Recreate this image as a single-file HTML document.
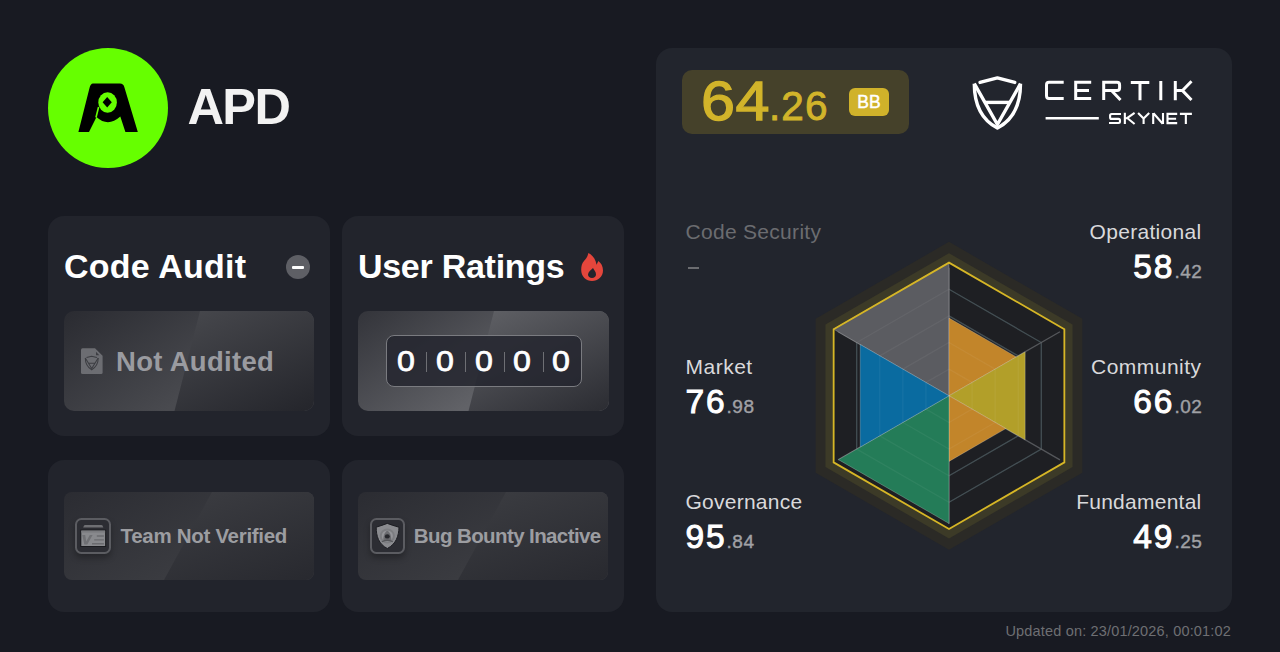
<!DOCTYPE html>
<html><head><meta charset="utf-8">
<style>
*{margin:0;padding:0;box-sizing:border-box}
html,body{width:1280px;height:652px;overflow:hidden;background:#181a22;font-family:"Liberation Sans",sans-serif;color:#fff}
.abs{position:absolute}
.t{position:absolute;white-space:nowrap}
.card{background:#22242c;border-radius:16px}
.glass{border-radius:10px;overflow:hidden}
.dv{top:352px;width:1px;height:20px;background:#6e6f74}
.sh{position:absolute;left:0;top:0;width:100%;height:100%}
.g2{border-radius:8px;background:linear-gradient(150deg,#2b2c32 0%,#3b3c41 65%)}
.sh2{clip-path:polygon(148px 0,100% 0,100% 100%,100px 100%);background:linear-gradient(160deg,#3a3b40 30%,#28292f 100%)}
</style></head><body>

<div class="abs" style="left:48px;top:48px;width:120px;height:120px;border-radius:50%;background:#66ff00"></div>
<div class="abs card" style="left:48px;top:216px;width:282px;height:220px"></div>
<div class="abs" style="left:286px;top:255px;width:24px;height:24px;border-radius:50%;background:#5e5f65"></div>
<div class="abs" style="left:292px;top:265.5px;width:12px;height:3px;background:#fff;border-radius:1px"></div>
<div class="abs glass" style="left:64px;top:311px;width:250px;height:100px;background:linear-gradient(145deg,#2a2b31 0%,#494a4f 62%)"><div class="sh" style="clip-path:polygon(136px 0,100% 0,100% 100%,110.5px 100%);background:linear-gradient(155deg,#45464b 30%,#24252b 100%)"></div></div>
<div class="abs card" style="left:342px;top:216px;width:282px;height:220px"></div>
<div class="abs glass" style="left:358px;top:311px;width:251px;height:100px;background:linear-gradient(145deg,#33343a 0%,#616267 62%)"><div class="sh" style="clip-path:polygon(136px 0,100% 0,100% 100%,110.5px 100%);background:linear-gradient(155deg,#5d5e63 30%,#2b2c32 100%)"></div></div>
<div class="abs" style="left:386px;top:335px;width:196px;height:52px;border:1px solid #7a7b80;border-radius:8px;background:rgba(36,38,47,0.85)"></div>
<div class="abs dv" style="left:426px"></div><div class="abs dv" style="left:465px"></div><div class="abs dv" style="left:504px"></div><div class="abs dv" style="left:543px"></div>
<div class="abs card" style="left:48px;top:460px;width:282px;height:152px"></div>
<div class="abs glass g2" style="left:64px;top:492px;width:250px;height:88px"><div class="sh sh2"></div></div>
<div class="abs card" style="left:342px;top:460px;width:282px;height:152px"></div>
<div class="abs glass g2" style="left:358px;top:492px;width:250px;height:88px"><div class="sh sh2"></div></div>
<div class="abs" style="left:75px;top:518px;width:36px;height:36px;border-radius:6px;box-shadow:0 4px 6px rgba(0,0,0,0.28)"></div>
<div class="abs" style="left:370px;top:518px;width:35px;height:36px;border-radius:6px;box-shadow:0 4px 6px rgba(0,0,0,0.28)"></div>
<div class="abs" style="left:656px;top:48px;width:576px;height:564px;background:#22252d;border-radius:16px"></div>
<div class="abs" style="left:682px;top:70px;width:227px;height:64px;border-radius:10px;background:#45412a"></div>
<div class="abs" style="left:849px;top:88px;width:40px;height:28px;border-radius:6px;background:#d0b22a;color:#fff;font-size:17.5px;line-height:29.5px;text-align:center;-webkit-text-stroke:0.45px #fff">BB</div>
<div class="abs" style="left:688px;top:266.5px;width:10.5px;height:2.5px;background:#6b6c70"></div>
<svg class="abs" style="left:0;top:0" width="1280" height="652" viewBox="0 0 1280 652">
<!-- APD logo -->
<path d="M93,83.5 H120 Q123.5,83.5 124.3,87 L137.8,131.9 H125.4 L120.3,116.5 Q108,127.6 96.5,117 L89,131.9 H78.4 L89.5,88 Q90.5,83.5 93,83.5 Z" fill="#000"/>
<ellipse cx="107.6" cy="102.5" rx="9.3" ry="10.2" fill="#66ff00"/>
<path d="M107.2,97 L111.8,102.3 L107.2,107.6 L102.6,102.3 Z" fill="#000"/>
<path d="M98.6,107 L96,117.5" stroke="#66ff00" stroke-width="1.6"/>
<!-- flame -->
<path d="M588.4,253 C587.5,257 586,259 584,261 C582,263 581.2,266 581.2,270 C581.2,276.5 586,281 592,281 C598,281 603,276.5 603,270.5 C603,266 601,263 598.3,261 L596.6,264.8 C595.5,259 592.5,255 588.4,253 Z" fill="#e4463c"/>
<path d="M593,268 C591,270 588,272 588,274.5 C588,276.5 589.8,278 592,278 C594.2,278 596,276.5 596,274.5 C596,271.5 594,270 593,268 Z" fill="#22242c"/>
<!-- radar -->
<polygon points="949.00,241.80 1082.37,318.80 1082.37,472.80 949.00,549.80 815.63,472.80 815.63,318.80" fill="#2b2a26"/>
<polygon points="949.00,253.20 1072.50,324.50 1072.50,467.10 949.00,538.40 825.50,467.10 825.50,324.50" fill="#3c3a27"/>
<polygon points="949.00,262.60 1064.35,329.20 1064.35,462.40 949.00,529.00 833.65,462.40 833.65,329.20" fill="#1e1f23"/>
<polygon points="949.00,369.16 972.07,382.48 972.07,409.12 949.00,422.44 925.93,409.12 925.93,382.48" fill="none" stroke="#3a464b" stroke-width="1.3"/>
<polygon points="949.00,342.52 995.14,369.16 995.14,422.44 949.00,449.08 902.86,422.44 902.86,369.16" fill="none" stroke="#3a464b" stroke-width="1.3"/>
<polygon points="949.00,315.88 1018.21,355.84 1018.21,435.76 949.00,475.72 879.79,435.76 879.79,355.84" fill="none" stroke="#3a464b" stroke-width="1.3"/>
<polygon points="949.00,289.24 1041.28,342.52 1041.28,449.08 949.00,502.36 856.72,449.08 856.72,342.52" fill="none" stroke="#3a464b" stroke-width="1.3"/>
<line x1="949.00" y1="395.80" x2="949.00" y2="267.66" stroke="#55575b" stroke-width="1.3"/>
<line x1="949.00" y1="395.80" x2="1059.97" y2="331.73" stroke="#55575b" stroke-width="1.3"/>
<line x1="949.00" y1="395.80" x2="1059.97" y2="459.87" stroke="#55575b" stroke-width="1.3"/>
<line x1="949.00" y1="395.80" x2="949.00" y2="523.94" stroke="#55575b" stroke-width="1.3"/>
<line x1="949.00" y1="395.80" x2="838.03" y2="459.87" stroke="#55575b" stroke-width="1.3"/>
<line x1="949.00" y1="395.80" x2="838.03" y2="331.73" stroke="#55575b" stroke-width="1.3"/>
<polygon points="949.00,395.80 833.65,329.20 949.00,262.60" fill="#5b5c61" stroke="rgba(255,255,255,0.28)" stroke-width="0.8"/>
<polygon points="949.00,395.80 949.00,317.98 1016.39,356.89" fill="#c2852a" stroke="rgba(255,255,255,0.28)" stroke-width="0.8"/>
<polygon points="949.00,395.80 1025.16,351.83 1025.16,439.77" fill="#b29f29" stroke="rgba(255,255,255,0.28)" stroke-width="0.8"/>
<polygon points="949.00,395.80 1005.81,428.60 949.00,461.40" fill="#c2852a" stroke="rgba(255,255,255,0.28)" stroke-width="0.8"/>
<polygon points="949.00,395.80 949.00,523.46 838.44,459.63" fill="#247c58" stroke="rgba(255,255,255,0.28)" stroke-width="0.8"/>
<polygon points="949.00,395.80 860.20,447.07 860.20,344.53" fill="#0a6ba0" stroke="rgba(255,255,255,0.28)" stroke-width="0.8"/>
<polygon points="949.00,369.16 972.07,382.48 972.07,409.12 949.00,422.44 925.93,409.12 925.93,382.48" fill="none" stroke="rgba(255,255,255,0.05)" stroke-width="1.3"/>
<polygon points="949.00,342.52 995.14,369.16 995.14,422.44 949.00,449.08 902.86,422.44 902.86,369.16" fill="none" stroke="rgba(255,255,255,0.05)" stroke-width="1.3"/>
<polygon points="949.00,315.88 1018.21,355.84 1018.21,435.76 949.00,475.72 879.79,435.76 879.79,355.84" fill="none" stroke="rgba(255,255,255,0.05)" stroke-width="1.3"/>
<polygon points="949.00,289.24 1041.28,342.52 1041.28,449.08 949.00,502.36 856.72,449.08 856.72,342.52" fill="none" stroke="rgba(255,255,255,0.05)" stroke-width="1.3"/>
<polygon points="949.00,262.60 1064.35,329.20 1064.35,462.40 949.00,529.00 833.65,462.40 833.65,329.20" fill="none" stroke="#d6b626" stroke-width="1.8"/>
<!-- certik logo -->
<g fill="none" stroke="#fff" stroke-width="3.4" stroke-linejoin="round">
<path d="M980,82.4 L997.4,77.9 L1014.8,82.4" stroke-linecap="round"/>
<path d="M974.3,83.7 C974.3,105 982,120 997.4,128 C1012.8,120 1020.5,105 1020.5,83.7"/>
<path d="M974.3,83.7 L997.4,124.5 L1020.5,83.7"/>
<path d="M985.2,102.4 H1009.6"/>
</g>
<g fill="none" stroke="#fff" stroke-width="3">
<path d="M1063.7,82.3 H1049 Q1046.5,82.3 1046.5,85 V95.8 Q1046.5,98.5 1049,98.5 H1063.7"/>
<path d="M1091.2,82.3 H1075.7 V98.5 H1091.2 M1075.7,90.5 H1089"/>
<path d="M1103.7,100 V82.3 H1117 Q1119.6,82.3 1119.6,85 V88 Q1119.6,90.5 1117,90.5 H1103.7 M1111.5,90.5 L1120.5,100"/>
<path d="M1130.8,82.4 H1149.3 M1140,82.4 V100.2"/>
<path d="M1160.8,81 V100.2"/>
<path d="M1175.3,81 V100.2 M1175.3,90.6 H1182.5 L1191.5,81.3 M1182.5,90.6 L1191.5,100"/>
</g>
<path d="M1045.6,118.3 H1098.8" stroke="#fff" stroke-width="2.4"/>
<g fill="none" stroke="#fff" stroke-width="2.1">
<path d="M1121,114 H1111.6 Q1110.1,114 1110.1,115.5 V117.4 Q1110.1,118.9 1111.6,118.9 H1118.5 Q1120,118.9 1120,120.4 V121.6 Q1120,123.05 1118.5,123.05 H1109"/>
<path d="M1124.85,112.7 V124.1 M1124.85,118.2 H1127 L1134.6,112.9 M1127.5,118.2 L1134.6,124"/>
<path d="M1138.1,112.9 L1143.6,118.5 L1149.2,112.9 M1143.6,118.3 V124.1"/>
<path d="M1153.2,124.1 V112.9 M1153.5,113.3 L1162.7,123.7 M1163,124.1 V112.9"/>
<path d="M1177.2,113.9 H1167.5 V123.1 H1177.2 M1167.5,118.8 H1176.1"/>
<path d="M1179.9,113.9 H1191.9 M1185.85,113.9 V124.1"/>
</g>
<!-- team icon -->
<rect x="76" y="519" width="34" height="34" rx="5.5" fill="#2c2d33" stroke="#5b5c61" stroke-width="2"/>
<path d="M83.2,527.6 L84,525.6 Q84.3,525 85.1,525 H101.4 Q102.2,525 102.5,525.6 L103.3,527.6 Z" fill="#6e6f73"/>
<rect x="80.3" y="529.6" width="25.8" height="17.4" fill="#1a1b1f"/>
<rect x="81.3" y="530.6" width="23.8" height="15.4" fill="#88898d"/>
<rect x="81.3" y="530.6" width="23.8" height="2" fill="#7b7c80"/>
<path d="M82.3,535 H85.2 L86.2,541.5 L89.8,535 H92.6 L87.3,544.6 H84.3 Z" fill="#6f7074"/>
<g stroke="#6a6b6f" stroke-width="1.4"><path d="M96.8,536 H103.9 M94.2,539.9 H103.9 M92,543.8 H103.9"/></g>
<!-- shield icon -->
<rect x="371" y="519" width="33" height="34" rx="5.5" fill="#2c2d33" stroke="#5b5c61" stroke-width="2"/>
<path d="M387.3,523.4 C384,524.6 380,526 376.2,527.2 C376.2,536 378.5,544 387.3,548.5 C396.1,544 398.8,536 399,527.2 C394.6,526 390.6,524.6 387.3,523.4 Z" fill="#8a8b8f" stroke="#1c1d22" stroke-width="1"/>
<circle cx="387.3" cy="536" r="7.6" fill="#7c7d81"/>
<circle cx="387.3" cy="536" r="5.6" fill="#949599"/>
<path d="M383.3,540.5 C383.3,536 384.5,532 387.3,530.8 C390.1,532 391.3,536 391.3,540.5 Z" fill="#6b6c70"/>
<ellipse cx="387.3" cy="536.4" rx="2.5" ry="2.2" fill="#26272c"/>
<path d="M381.5,541.2 Q387.3,537.6 393.1,541.2 L392.5,542.2 Q387.3,539.8 382.1,542.2 Z" fill="#55565a"/>
<!-- doc icon -->
<path d="M82.5,348.2 H95 L102.6,355.7 V372.5 Q102.6,374 101.1,374 H82.5 Q81,374 81,372.5 V349.7 Q81,348.2 82.5,348.2 Z" fill="#6c6d72"/>
<path d="M96,351.8 L99.3,355.2 H96 Z" fill="#3d3e43"/>
<g fill="none" stroke="#3c3d42" stroke-width="1.05">
<path d="M86.5,357.6 L91.7,356.2 L96.9,357.6"/>
<path d="M85.3,358 C85.3,364 88,367.5 91.7,369.8 C95.4,367.5 98.2,364 98.2,358"/>
<path d="M85.3,358 L91.7,368.5 L98.2,358 M88.5,363.2 H94.9"/>
</g>
</svg>
<div id="apd" class="t" style="left:187.50px;top:82.25px;font-size:50.50px;line-height:50.50px;color:#f2f2f2;font-weight:700;letter-spacing:-1.60px;">APD</div>
<div id="ca" class="t" style="left:63.90px;top:249.22px;font-size:34.00px;line-height:34.00px;color:#ffffff;font-weight:700;letter-spacing:0.23px;">Code Audit</div>
<div id="ur" class="t" style="left:357.90px;top:249.22px;font-size:34.00px;line-height:34.00px;color:#ffffff;font-weight:700;letter-spacing:-0.26px;">User Ratings</div>
<div id="na" class="t" style="left:116.00px;top:348.12px;font-size:27.50px;line-height:27.50px;color:#9a9ba0;font-weight:700;letter-spacing:0.30px;">Not Audited</div>
<div id="tnv" class="t" style="left:120.50px;top:525.65px;font-size:20.50px;line-height:20.50px;color:#9c9da1;font-weight:700;letter-spacing:-0.30px;">Team Not Verified</div>
<div id="bbi" class="t" style="left:413.80px;top:525.65px;font-size:20.50px;line-height:20.50px;color:#9c9da1;font-weight:700;letter-spacing:-0.60px;">Bug Bounty Inactive</div>
<div id="score" class="t" style="left:701.30px;top:73.94px;font-size:55.00px;line-height:55.00px;color:#d2b42a;font-weight:400;letter-spacing:0.50px;"><span id="s64" style="display:inline-block;transform:scaleX(1.11);transform-origin:0 0;-webkit-text-stroke:1.3px #d2b42a">64</span><span id="s26" style="font-size:40.5px;letter-spacing:1.1px;margin-left:5.5px;-webkit-text-stroke:0.9px #d2b42a">.26</span></div>
<div id="cs" class="t" style="left:685.50px;top:221.12px;font-size:21.00px;line-height:21.00px;color:#6b6c70;font-weight:400;letter-spacing:0.30px;">Code Security</div>
<div id="op" class="t" style="right:78.50px;text-align:right;top:221.22px;font-size:21.00px;line-height:21.00px;color:#d9d9db;font-weight:400;letter-spacing:0.31px;">Operational</div>
<div id="opv" class="t" style="right:77.70px;text-align:right;top:250.14px;font-size:33.50px;line-height:33.50px;color:#ffffff;font-weight:400;letter-spacing:1.90px;"><span style="-webkit-text-stroke:1px #fff">58</span><span style="font-size:19px;color:#a0a1a5;letter-spacing:0.5px;-webkit-text-stroke:0.4px #a0a1a5">.42</span></div>
<div id="mk" class="t" style="left:685.50px;top:356.02px;font-size:21.00px;line-height:21.00px;color:#d9d9db;font-weight:400;letter-spacing:0.50px;">Market</div>
<div id="mkv" class="t" style="left:685.50px;top:384.74px;font-size:33.50px;line-height:33.50px;color:#ffffff;font-weight:400;letter-spacing:1.90px;"><span style="-webkit-text-stroke:1px #fff">76</span><span style="font-size:19px;color:#a0a1a5;letter-spacing:0.5px;-webkit-text-stroke:0.4px #a0a1a5">.98</span></div>
<div id="cm" class="t" style="right:78.50px;text-align:right;top:356.02px;font-size:21.00px;line-height:21.00px;color:#d9d9db;font-weight:400;letter-spacing:0.47px;">Community</div>
<div id="cmv" class="t" style="right:77.70px;text-align:right;top:384.74px;font-size:33.50px;line-height:33.50px;color:#ffffff;font-weight:400;letter-spacing:1.90px;"><span style="-webkit-text-stroke:1px #fff">66</span><span style="font-size:19px;color:#a0a1a5;letter-spacing:0.5px;-webkit-text-stroke:0.4px #a0a1a5">.02</span></div>
<div id="gv" class="t" style="left:685.50px;top:491.02px;font-size:21.00px;line-height:21.00px;color:#d9d9db;font-weight:400;letter-spacing:0.25px;">Governance</div>
<div id="gvv" class="t" style="left:685.50px;top:519.74px;font-size:33.50px;line-height:33.50px;color:#ffffff;font-weight:400;letter-spacing:1.90px;"><span style="-webkit-text-stroke:1px #fff">95</span><span style="font-size:19px;color:#a0a1a5;letter-spacing:0.5px;-webkit-text-stroke:0.4px #a0a1a5">.84</span></div>
<div id="fd" class="t" style="right:78.50px;text-align:right;top:491.02px;font-size:21.00px;line-height:21.00px;color:#d9d9db;font-weight:400;letter-spacing:0.25px;">Fundamental</div>
<div id="fdv" class="t" style="right:77.70px;text-align:right;top:519.74px;font-size:33.50px;line-height:33.50px;color:#ffffff;font-weight:400;letter-spacing:1.90px;"><span style="-webkit-text-stroke:1px #fff">49</span><span style="font-size:19px;color:#a0a1a5;letter-spacing:0.5px;-webkit-text-stroke:0.4px #a0a1a5">.25</span></div>
<div id="d0" class="t" style="left:391.30px;top:346.31px;width:30px;text-align:center;font-size:30px;line-height:30px;color:#fff;transform:scaleX(1.07);-webkit-text-stroke:0.75px #fff">0</div>
<div id="d1" class="t" style="left:430.40px;top:346.31px;width:30px;text-align:center;font-size:30px;line-height:30px;color:#fff;transform:scaleX(1.07);-webkit-text-stroke:0.75px #fff">0</div>
<div id="d2" class="t" style="left:469.20px;top:346.31px;width:30px;text-align:center;font-size:30px;line-height:30px;color:#fff;transform:scaleX(1.07);-webkit-text-stroke:0.75px #fff">0</div>
<div id="d3" class="t" style="left:507.10px;top:346.31px;width:30px;text-align:center;font-size:30px;line-height:30px;color:#fff;transform:scaleX(1.07);-webkit-text-stroke:0.75px #fff">0</div>
<div id="d4" class="t" style="left:546.00px;top:346.31px;width:30px;text-align:center;font-size:30px;line-height:30px;color:#fff;transform:scaleX(1.07);-webkit-text-stroke:0.75px #fff">0</div>
<div id="upd" class="t" style="right:49.00px;text-align:right;top:623.73px;font-size:14.50px;line-height:14.50px;color:#6e6f73;font-weight:400;letter-spacing:0.17px;">Updated on: 23/01/2026, 00:01:02</div>
</body></html>
